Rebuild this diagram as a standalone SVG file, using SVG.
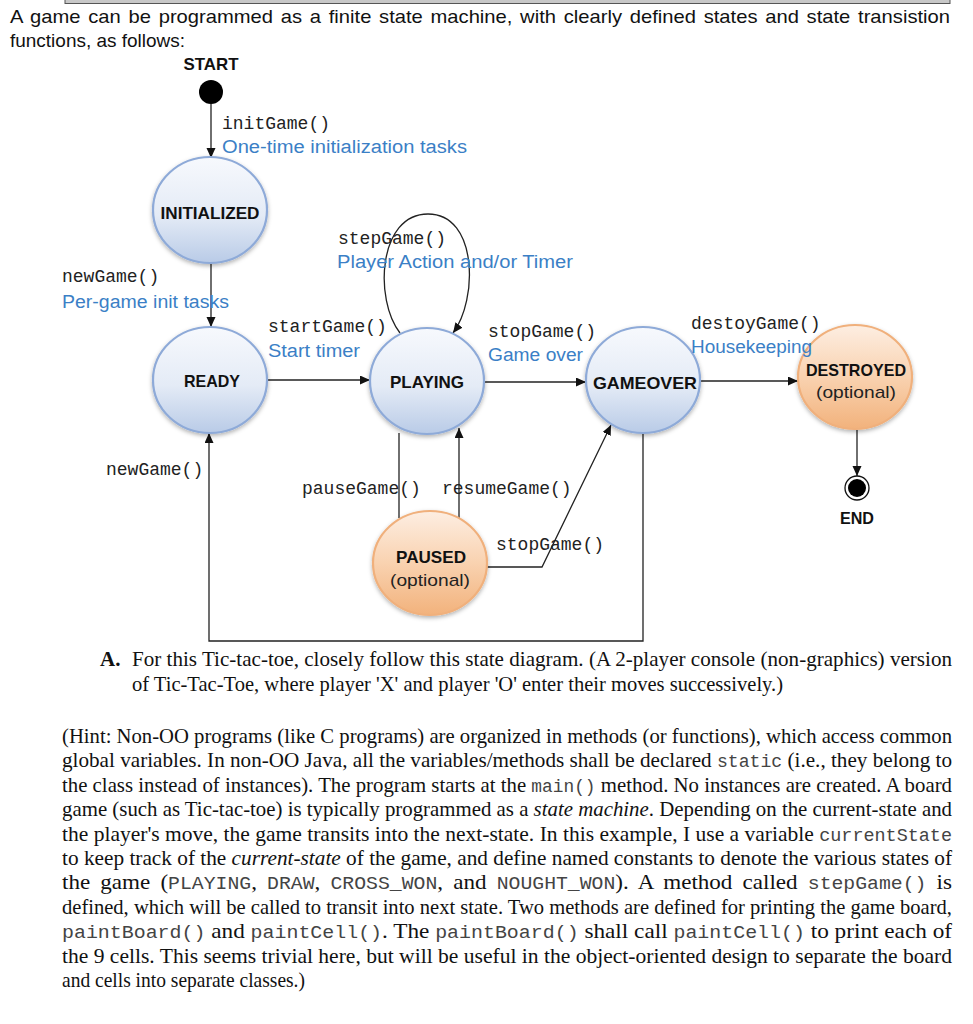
<svg xmlns="http://www.w3.org/2000/svg" width="973" height="1024" viewBox="0 0 973 1024">
<defs>
<linearGradient id="gBlue" x1="0" y1="0" x2="0" y2="1">
<stop offset="0" stop-color="#f7f9fd"/>
<stop offset="0.55" stop-color="#e4ebf6"/>
<stop offset="1" stop-color="#b9cbe7"/>
</linearGradient>
<linearGradient id="gOrange" x1="0" y1="0" x2="0" y2="1">
<stop offset="0" stop-color="#fdeee2"/>
<stop offset="0.5" stop-color="#f9d2b0"/>
<stop offset="1" stop-color="#f2b27c"/>
</linearGradient>
<filter id="sh" x="-20%" y="-20%" width="140%" height="150%">
<feDropShadow dx="0" dy="2" stdDeviation="2" flood-color="#000" flood-opacity="0.3"/>
</filter>
<marker id="arr" markerUnits="userSpaceOnUse" markerWidth="11" markerHeight="10" refX="10" refY="4.5" orient="auto">
<path d="M0,0 L10,4.5 L0,9 z" fill="#111"/>
</marker>
</defs>
<style>
.blue{fill:url(#gBlue);stroke:#8eaad8;stroke-width:2.2}
.orange{fill:url(#gOrange);stroke:#f0b07c;stroke-width:2.2}
.nl{font-family:"Liberation Sans",Arial,sans-serif;font-weight:bold;font-size:17px;fill:#111;text-anchor:middle}
.opt{font-family:"Liberation Sans",Arial,sans-serif;font-size:17px;fill:#222;text-anchor:middle}
.mono{font-family:"Liberation Mono","DejaVu Sans Mono",monospace;font-size:18px;fill:#222}
.bl{font-family:"Liberation Sans",Arial,sans-serif;font-size:18px;fill:#3b7fc6}
.conn path{fill:none;stroke:#222;stroke-width:1.3}
.hd{font-family:"Liberation Sans",Arial,sans-serif;font-size:19px;fill:#111}
.tm{font-family:"Liberation Serif","Times New Roman",serif;font-size:21px;fill:#111}
.cm{font-family:"Liberation Mono","Courier New",monospace;font-size:18px;fill:#444}
</style>
<rect x="0" y="0" width="973" height="1024" fill="#fff"/>
<rect x="65" y="-2" width="885" height="5.5" fill="#c8c8c8" stroke="#555" stroke-width="1"/>

<text class="hd" x="10" y="23" word-spacing="2" textLength="940" lengthAdjust="spacingAndGlyphs">A game can be programmed as a finite state machine, with clearly defined states and state transistion</text>
<text class="hd" x="10" y="47" textLength="175" lengthAdjust="spacingAndGlyphs">functions, as follows:</text>

<g class="conn" id="connectors">
<path d="M211,104 L211,158" marker-end="url(#arr)"/>
<path d="M211,264 L211,327" marker-end="url(#arr)"/>
<path d="M268,380 L370,380" marker-end="url(#arr)"/>
<path d="M485,382 L586,382" marker-end="url(#arr)"/>
<path d="M700,381 L798,381" marker-end="url(#arr)"/>
<path d="M857,430 L857,476" marker-end="url(#arr)"/>
<path d="M400,333 C374,300 378,214 428,214 C478,214 478,300 453,333" marker-end="url(#arr)"/>
<path d="M399,433 L399,518"/>
<path d="M459,518 L459,428" marker-end="url(#arr)"/>
<path d="M487,567 L542,567 L611,425" marker-end="url(#arr)"/>
<path d="M643,433 L643,641 L209,641 L209,433" marker-end="url(#arr)"/>
</g>

<g id="start">
<text class="nl" x="211" y="70" textLength="55" lengthAdjust="spacingAndGlyphs">START</text>
<circle cx="211" cy="92" r="12" fill="#000"/>
</g>
<g id="initialized">
<ellipse class="blue" cx="210" cy="210" rx="57" ry="53" filter="url(#sh)"/>
<text class="nl" x="210" y="219" textLength="99" lengthAdjust="spacingAndGlyphs">INITIALIZED</text>
</g>
<g id="ready">
<ellipse class="blue" cx="210" cy="380" rx="57" ry="53" filter="url(#sh)"/>
<text class="nl" x="212" y="387" textLength="56" lengthAdjust="spacingAndGlyphs">READY</text>
</g>
<g id="playing">
<ellipse class="blue" cx="427" cy="381" rx="57" ry="53" filter="url(#sh)"/>
<text class="nl" x="427" y="388" textLength="74" lengthAdjust="spacingAndGlyphs">PLAYING</text>
</g>
<g id="gameover">
<ellipse class="blue" cx="643" cy="380" rx="57" ry="53" filter="url(#sh)"/>
<text class="nl" x="645" y="389" textLength="104" lengthAdjust="spacingAndGlyphs">GAMEOVER</text>
</g>
<g id="destroyed">
<ellipse class="orange" cx="855" cy="377" rx="57" ry="52" filter="url(#sh)"/>
<text class="nl" x="856" y="376" textLength="100" lengthAdjust="spacingAndGlyphs">DESTROYED</text>
<text class="opt" x="856" y="398" textLength="80" lengthAdjust="spacingAndGlyphs">(optional)</text>
</g>
<g id="paused">
<ellipse class="orange" cx="430" cy="563" rx="57" ry="52" filter="url(#sh)"/>
<text class="nl" x="431" y="563" textLength="70" lengthAdjust="spacingAndGlyphs">PAUSED</text>
<text class="opt" x="430" y="586" textLength="80" lengthAdjust="spacingAndGlyphs">(optional)</text>
</g>
<g id="end">
<circle cx="857" cy="488" r="12" fill="#fff" stroke="#111" stroke-width="1.3"/>
<circle cx="857" cy="488" r="9" fill="#000"/>
<text class="nl" x="857" y="524" textLength="34" lengthAdjust="spacingAndGlyphs">END</text>
</g>

<g id="labels">
<text class="mono" x="222" y="129">initGame()</text>
<text class="bl" x="222" y="153" textLength="245" lengthAdjust="spacingAndGlyphs">One-time initialization tasks</text>
<text class="mono" x="338" y="244">stepGame()</text>
<text class="bl" x="337" y="268" textLength="236" lengthAdjust="spacingAndGlyphs">Player Action and/or Timer</text>
<text class="mono" x="62" y="282">newGame()</text>
<text class="bl" x="62" y="308" textLength="167" lengthAdjust="spacingAndGlyphs">Per-game init tasks</text>
<text class="mono" x="268" y="332">startGame()</text>
<text class="bl" x="268" y="357" textLength="92" lengthAdjust="spacingAndGlyphs">Start timer</text>
<text class="mono" x="488" y="337">stopGame()</text>
<text class="bl" x="488" y="361" textLength="95" lengthAdjust="spacingAndGlyphs">Game over</text>
<text class="mono" x="691" y="329">destoyGame()</text>
<text class="bl" x="691" y="353" textLength="121" lengthAdjust="spacingAndGlyphs">Housekeeping</text>
<text class="mono" x="106" y="475">newGame()</text>
<text class="mono" x="302" y="494">pauseGame()</text>
<text class="mono" x="442" y="494">resumeGame()</text>
<text class="mono" x="496" y="550">stopGame()</text>
</g>

<g id="body">
<text class="tm" x="100" y="666" font-weight="bold">A.</text>
<text class="tm" x="132" y="666" textLength="820" lengthAdjust="spacingAndGlyphs">For this Tic-tac-toe, closely follow this state diagram. (A 2-player console (non-graphics) version</text>
<text class="tm" x="132" y="691" textLength="651" lengthAdjust="spacingAndGlyphs">of Tic-Tac-Toe, where player 'X' and player 'O' enter their moves successively.)</text>

<text class="tm" x="62" y="743" textLength="890" lengthAdjust="spacingAndGlyphs">(Hint: Non-OO programs (like C programs) are organized in methods (or functions), which access common</text>
<text class="tm" x="62" y="767" textLength="890" lengthAdjust="spacingAndGlyphs">global variables. In non-OO Java, all the variables/methods shall be declared <tspan class="cm">static</tspan> (i.e., they belong to</text>
<text class="tm" x="62" y="792" textLength="890" lengthAdjust="spacingAndGlyphs">the class instead of instances). The program starts at the <tspan class="cm">main()</tspan> method. No instances are created. A board</text>
<text class="tm" x="62" y="816" textLength="890" lengthAdjust="spacingAndGlyphs">game (such as Tic-tac-toe) is typically programmed as a <tspan font-style="italic">state machine</tspan>. Depending on the current-state and</text>
<text class="tm" x="62" y="841" textLength="890" lengthAdjust="spacingAndGlyphs">the player's move, the game transits into the next-state. In this example, I use a variable <tspan class="cm">currentState</tspan></text>
<text class="tm" x="62" y="865" textLength="890" lengthAdjust="spacingAndGlyphs">to keep track of the <tspan font-style="italic">current-state</tspan> of the game, and define named constants to denote the various states of</text>
<text class="tm" x="62" y="889" textLength="890" lengthAdjust="spacingAndGlyphs" word-spacing="4">the game (<tspan class="cm">PLAYING</tspan>, <tspan class="cm">DRAW</tspan>, <tspan class="cm">CROSS_WON</tspan>, and <tspan class="cm">NOUGHT_WON</tspan>).  A method called <tspan class="cm">stepGame()</tspan> is</text>
<text class="tm" x="62" y="914" textLength="890" lengthAdjust="spacingAndGlyphs">defined, which will be called to transit into next state. Two methods are defined for printing the game board,</text>
<text class="tm" x="62" y="938" textLength="890" lengthAdjust="spacingAndGlyphs"><tspan class="cm">paintBoard()</tspan> and <tspan class="cm">paintCell()</tspan>. The <tspan class="cm">paintBoard()</tspan> shall call <tspan class="cm">paintCell()</tspan> to print each of</text>
<text class="tm" x="62" y="963" textLength="890" lengthAdjust="spacingAndGlyphs">the 9 cells.  This seems trivial here, but will be useful in the object-oriented design to separate the board</text>
<text class="tm" x="62" y="987" textLength="243" lengthAdjust="spacingAndGlyphs">and cells into separate classes.)</text>
</g>
</svg>
